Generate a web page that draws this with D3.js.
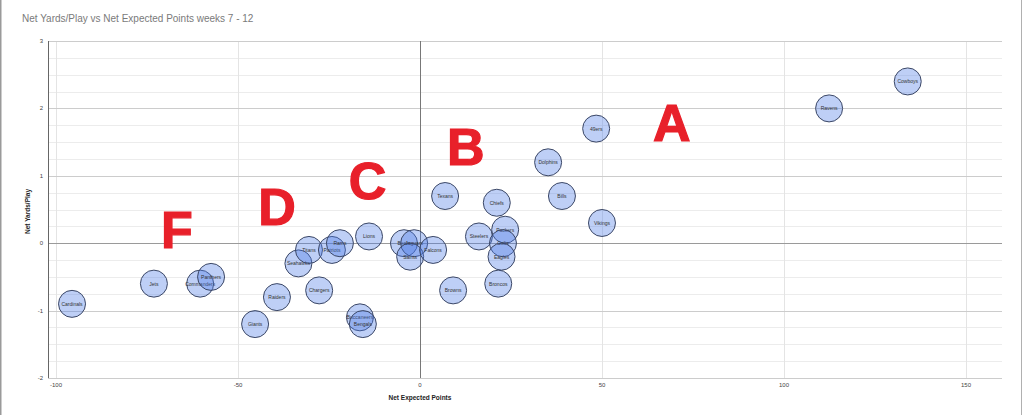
<!DOCTYPE html>
<html>
<head>
<meta charset="utf-8">
<script src="https://cdn.jsdelivr.net/npm/d3@7"></script>
<style>
  body { margin: 0; background: #fff; }
  svg { display: block; font-family: "Liberation Sans", Arial, sans-serif; }
</style>
</head>
<body>
<svg id="chart" width="1024" height="415"></svg>
<script>
// values
const teams = ["Cardinals", "Jets", "Commanders", "Panthers", "Giants", "Raiders", "Seahawks", "Titans",
  "Patriots", "Rams", "Chargers", "Lions", "Buccaneers", "Bengals", "Bears", "Jaguars", "Saints",
  "Falcons", "Texans", "Browns", "Steelers", "Chiefs", "Broncos", "Packers", "Colts", "Eagles",
  "Dolphins", "Bills", "49ers", "Vikings", "Ravens", "Cowboys"];
const netEP = [-95.6, -73.1, -60.4, -57.4, -45.3, -39.3, -33.4, -30.5,
  -24.2, -22, -27.7, -14, -16.5, -15.7, -4.4, -1.6, -2.7,
  3.6, 6.9, 9.1, 16.2, 21.1, 21.5, 23.4, 22.8, 22.4,
  35.2, 39, 48.4, 50, 112.4, 134];
const netYPP = [-0.9, -0.6, -0.6, -0.5, -1.2, -0.8, -0.3, -0.1,
  -0.1, 0, -0.7, 0.1, -1.1, -1.2, 0, 0, -0.2,
  -0.1, 0.7, -0.7, 0.1, 0.6, -0.6, 0.2, 0, -0.2,
  1.2, 0.7, 1.7, 0.3, 2.0, 2.4];
const xTicks = [-100, -50, 0, 50, 100, 150];
const yTicks = [-2, -1, 0, 1, 2, 3];
const grades = ["A", "B", "C", "D", "F"];
const gradeX = [69.2, 12.6, -14.4, -39.3, -66.8];
const gradeY = [1.52, 1.16, 0.66, 0.27, -0.07];

const svg = d3.select("#chart");
const plotLeft = 48, plotRight = 1002, plotTop = 41, plotBottom = 378;

const x = d3.scaleLinear().domain([-102.2, 159.9]).range([plotLeft, plotRight]);
const y = d3.scaleLinear().domain([-2, 3]).range([plotBottom, plotTop]);

// frame lines at the picture edges
svg.append("line").attr("x1", 0.5).attr("x2", 0.5).attr("y1", 0).attr("y2", 415)
  .attr("stroke", "#9a9a9a").attr("stroke-width", 2);
svg.append("line").attr("x1", 1021.5).attr("x2", 1021.5).attr("y1", 0).attr("y2", 415)
  .attr("stroke", "#b0b0b0");

svg.append("text")
  .attr("x", 22).attr("y", 22)
  .attr("font-size", 10).attr("fill", "#7a7a7a")
  .text("Net Yards/Play vs Net Expected Points weeks 7 - 12");

// minor horizontal grid
svg.append("g").selectAll("line")
  .data(d3.range(-2, 3.01, 0.25).filter(v => Math.abs(v - Math.round(v)) > 0.01))
  .enter().append("line")
  .attr("x1", plotLeft).attr("x2", plotRight)
  .attr("y1", d => Math.round(y(d)) + 0.5).attr("y2", d => Math.round(y(d)) + 0.5)
  .attr("stroke", "#ececec");

// vertical grid
svg.append("g").selectAll("line")
  .data(xTicks.filter(d => d !== 0))
  .enter().append("line")
  .attr("x1", d => Math.round(x(d)) + 0.5).attr("x2", d => Math.round(x(d)) + 0.5)
  .attr("y1", plotTop).attr("y2", plotBottom)
  .attr("stroke", "#e4e4e4");

// major horizontal grid
svg.append("g").selectAll("line")
  .data(yTicks)
  .enter().append("line")
  .attr("x1", plotLeft).attr("x2", plotRight)
  .attr("y1", d => Math.round(y(d)) + 0.5).attr("y2", d => Math.round(y(d)) + 0.5)
  .attr("stroke", d => d === 0 ? "#9a9a9a" : "#cccccc");

// zero line and left axis
svg.append("line")
  .attr("x1", Math.round(x(0)) + 0.5).attr("x2", Math.round(x(0)) + 0.5)
  .attr("y1", plotTop).attr("y2", plotBottom)
  .attr("stroke", "#777");
svg.append("line")
  .attr("x1", plotLeft + 0.5).attr("x2", plotLeft + 0.5)
  .attr("y1", plotTop).attr("y2", plotBottom)
  .attr("stroke", "#666");

// tick labels
svg.append("g").selectAll("text")
  .data(yTicks)
  .enter().append("text")
  .attr("x", plotLeft - 5).attr("y", d => y(d) + 2)
  .attr("text-anchor", "end")
  .attr("font-size", 6).attr("fill", "#444")
  .text(d => d);

svg.append("g").selectAll("text")
  .data(xTicks)
  .enter().append("text")
  .attr("x", d => x(d)).attr("y", plotBottom + 9)
  .attr("text-anchor", "middle")
  .attr("font-size", 6).attr("fill", "#444")
  .text(d => d);

// axis titles
svg.append("text")
  .attr("x", x(0)).attr("y", 400)
  .attr("text-anchor", "middle")
  .attr("font-size", 6.5).attr("font-weight", "bold").attr("fill", "#222")
  .text("Net Expected Points");

svg.append("text")
  .attr("transform", "translate(30," + ((plotTop + plotBottom) / 2 + 2) + ") rotate(-90)")
  .attr("text-anchor", "middle")
  .attr("font-size", 6.5).attr("font-weight", "bold").attr("fill", "#222")
  .text("Net Yards/Play");

// bubbles
const data = teams.map((t, i) => ({team: t, ep: netEP[i], ypp: netYPP[i]}));

const bubbles = svg.append("g").selectAll("g")
  .data(data)
  .enter().append("g")
  .attr("transform", d => "translate(" + x(d.ep) + "," + y(d.ypp) + ")");

bubbles.append("circle")
  .attr("r", 13.5)
  .attr("fill", "#4a7ae6")
  .attr("fill-opacity", 0.36)
  .attr("stroke", "#3b4766")
  .attr("stroke-width", 1);

bubbles.append("text")
  .attr("y", 2)
  .attr("text-anchor", "middle")
  .attr("font-size", 5).attr("fill", "#333")
  .text(d => d.team);

// grade letters
svg.append("g").selectAll("text")
  .data(grades)
  .enter().append("text")
  .attr("x", (d, i) => x(gradeX[i])).attr("y", (d, i) => y(gradeY[i]))
  .attr("text-anchor", "middle")
  .attr("font-size", 52).attr("font-weight", "bold").attr("fill", "#e8202a")
  .attr("stroke", "#e8202a").attr("stroke-width", 1.2)
  .text(d => d);
</script>
</body>
</html>
